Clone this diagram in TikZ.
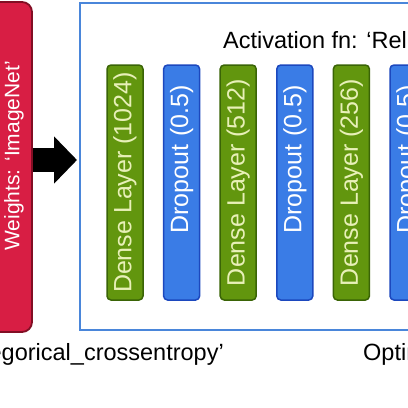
\documentclass[tikz,border=0pt]{standalone}
\usepackage{fontspec}
\setmainfont{Liberation Sans}
\usepackage{tikz}
\usetikzlibrary{arrows.meta,positioning,calc}

\definecolor{basered}{RGB}{216,30,68}
\definecolor{baseedge}{RGB}{130,14,36}
\definecolor{densegreen}{RGB}{98,150,14}
\definecolor{denseedge}{RGB}{58,100,6}
\definecolor{densetext}{RGB}{232,240,184}
\definecolor{dropblue}{RGB}{58,124,230}
\definecolor{dropedge}{RGB}{28,72,190}
\definecolor{headedge}{RGB}{74,134,218}

\begin{document}
\begin{tikzpicture}[x=1pt, y=-1pt,
    basebox/.style={rectangle, draw=baseedge, fill=basered, line width=1.8pt, rounded corners=10pt, minimum width=72pt, minimum height=330pt},
    headbox/.style={rectangle, draw=headedge, fill=white, line width=2pt, minimum width=360pt, minimum height=327pt},
    dense/.style={rectangle, rotate=90, draw=denseedge, fill=densegreen, line width=1.5pt, rounded corners=4pt, minimum width=235pt, minimum height=36pt, inner sep=0pt, text=densetext, font=\fontsize{25}{25}\selectfont},
    dropout/.style={rectangle, rotate=90, draw=dropedge, fill=dropblue, line width=1.5pt, rounded corners=4pt, minimum height=36pt, inner ysep=0pt, inner xsep=20pt, text width=195pt, align=right, text=white, font=\fontsize{25}{25}\selectfont},
    caption/.style={inner sep=0pt, font=\fontsize{23.5}{23.5}\selectfont},
    arrow/.style={line width=24pt, -{Triangle[length=23pt, width=46pt]}}
]
\useasboundingbox (0,0) rectangle (408,408);
\fill[white] (0,0) rectangle (408,408);
\clip (0,0) rectangle (408,408);

% pretrained base on the left
\node[basebox] (base) at (-4,167) {};
\node[rotate=90, text=white, inner sep=0pt, font=\fontsize{21}{21}\selectfont] (weights) at (14,156) {Weights: `ImageNet'};

% classifier head
\node[headbox] (head) at (260,166.5) {};
\node[caption, anchor=base west] (activation) at (223,48) {Activation fn: `Relu'};

% layers
\node[dense] (dense1) at (125,182.5) {Dense Layer (1024)};
\node[dropout] (drop1) at (181.6,182.5) {Dropout (0.5)};
\node[dense] (dense2) at (238.2,182.5) {Dense Layer (512)};
\node[dropout] (drop2) at (294.8,182.5) {Dropout (0.5)};
\node[dense] (dense3) at (351.4,182.5) {Dense Layer (256)};
\node[dropout] (drop3) at (408,182.5) {Dropout (0.5)};

% base feeds the head
\draw[arrow, shorten >=2pt] ([yshift=7pt]base.east) -- ([yshift=7pt]base.east -| head.west);

% settings below
\node[caption, anchor=base east] (loss) at (224,360) {Loss: `categorical\_crossentropy'};
\node[caption, anchor=base west] (optimizer) at (363,360) {Optimizer};

\end{tikzpicture}
\end{document}
